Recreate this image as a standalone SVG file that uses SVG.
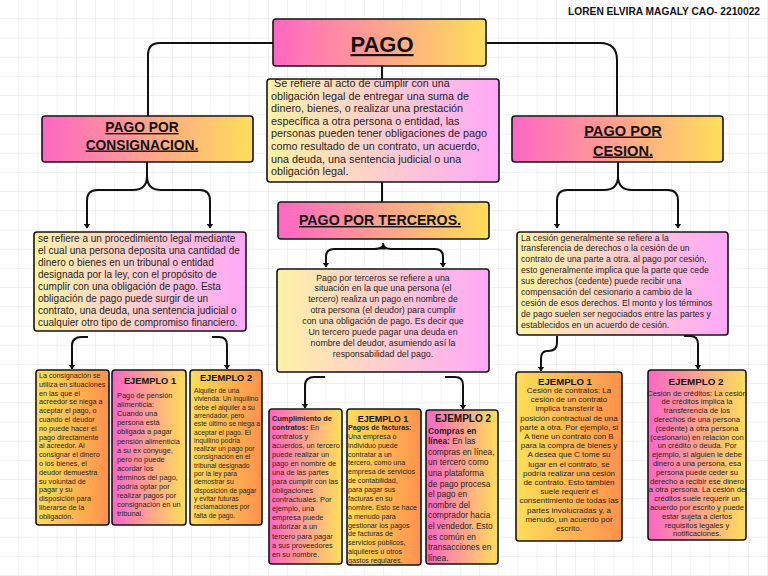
<svg xmlns="http://www.w3.org/2000/svg" width="768" height="576" viewBox="0 0 768 576">
<defs>
<pattern id="grid" width="19.2" height="19.2" patternUnits="userSpaceOnUse"><path d="M19.2 0V19.2H0" fill="none" stroke="#dcdcdc" stroke-width="0.8"/></pattern>
<linearGradient id="gPY" x1="0" y1="0" x2="1" y2="0"><stop offset="0" stop-color="#ff66c4"/><stop offset="1" stop-color="#ffde59"/></linearGradient>
<linearGradient id="gYO" x1="0" y1="0" x2="1" y2="0"><stop offset="0" stop-color="#ffde59"/><stop offset="1" stop-color="#ff914d"/></linearGradient>
<linearGradient id="gLP" x1="0" y1="0" x2="1" y2="0"><stop offset="0" stop-color="#fff1a6"/><stop offset="1" stop-color="#ffa8f8"/></linearGradient>
<marker id="ar" viewBox="0 0 10 10" refX="9" refY="5" markerWidth="5" markerHeight="7" markerUnits="userSpaceOnUse" orient="auto-start-reverse" preserveAspectRatio="none"><path d="M0 0L10 5L0 10z" fill="#111"/></marker>
</defs>
<style>
.box{stroke:#151515;stroke-width:1.6}
.t{font-family:"Liberation Sans",Arial,sans-serif;fill:#1f1f1f}
.h{font-family:"Liberation Sans",Arial,sans-serif;font-weight:700;fill:#111}
.u{text-decoration:underline}
.c{text-anchor:middle}
.b{font-weight:700}
.con{fill:none;stroke:#111;stroke-width:2}
.con.a{marker-end:url(#ar)}
</style>
<rect width="768" height="576" fill="#fff"/>
<rect width="768" height="576" fill="url(#grid)"/>
<text class="h" x="760" y="14.5" text-anchor="end" font-size="10.2">LOREN ELVIRA MAGALY CAO- 2210022</text>

<g id="connectors">
<path class="con" d="M273 43H160Q148 43 148 55V116"/>
<path class="con" d="M486 43H600Q617 43 617 60V116"/>
<path class="con" d="M382 66V79"/>
<path class="con" d="M382 182V202"/>
<path class="con a" d="M147 162V176C147 186 141 190 133 190H97C90 190 87 194 87 201V228"/>
<path class="con a" d="M147 176C147 186 153 190 161 190H200C207 190 210 194 210 201V228"/>
<path class="con a" d="M618 162V176C618 186 612 190 604 190H567C560 190 557 194 557 201V228"/>
<path class="con a" d="M618 176C618 186 624 190 632 190H668C675 190 678 194 678 201V228"/>
<path class="con a" d="M383 245C383 247 380 249 375 249H334C329 249 326 252 326 257V267" style="marker-start:url(#ar)"/>
<path class="con a" d="M383 243C383 247 386 249 391 249H435C440 249 443 252 443 257V267"/>
<path class="con a" d="M88 337H81C76 337 72 340 72 345V369"/>
<path class="con a" d="M212 337H219C224 337 227 340 227 345V369"/>
<path class="con a" d="M325 377H314C309 377 305 380 305 385V408"/>
<path class="con a" d="M445 377H455C460 377 463 380 463 385V409"/>
<path class="con a" d="M557 336V343C557 349 553 351 548 351H547C543 351 541 354 541 359V371"/>
<path class="con a" d="M684 336H690C695 336 698 339 698 344V369"/>
</g>

<g id="pago">
<rect class="box" x="273" y="19" width="213" height="47" rx="3" fill="url(#gPY)"/>
<text class="h u c" x="382" y="52" font-size="22">PAGO</text>
</g>

<g id="definicion">
<rect class="box" x="267" y="79" width="232" height="103" rx="3" fill="url(#gLP)"/>
<text class="t" font-size="10.8" y="87" xml:space="preserve"><tspan x="271"> Se refiere al acto de cumplir con una</tspan><tspan x="271" dy="12.6">obligación legal de entregar una suma de</tspan><tspan x="271" dy="12.6">dinero, bienes, o realizar una prestación</tspan><tspan x="271" dy="12.6">específica a otra persona o entidad, las</tspan><tspan x="271" dy="12.6">personas pueden tener obligaciones de pago</tspan><tspan x="271" dy="12.6">como resultado de un contrato, un acuerdo,</tspan><tspan x="271" dy="12.6">una deuda, una sentencia judicial o una</tspan><tspan x="271" dy="12.6">obligación legal.</tspan></text>
</g>

<g id="consignacion">
<rect class="box" x="42" y="116" width="211" height="46" rx="3" fill="url(#gPY)"/>
<text class="h u c" x="142" y="132" font-size="13.8">PAGO POR</text>
<text class="h u c" x="142" y="149.5" font-size="13.8">CONSIGNACION.</text>
</g>

<g id="consignacion-def">
<rect class="box" x="34" y="232" width="212" height="99" rx="3" fill="url(#gLP)"/>
<text class="t" font-size="10" y="241.5"><tspan x="38">se refiere a un procedimiento legal mediante</tspan><tspan x="38" dy="12">el cual una persona deposita una cantidad de</tspan><tspan x="38" dy="12">dinero o bienes en un tribunal o entidad</tspan><tspan x="38" dy="12">designada por la ley, con el propósito de</tspan><tspan x="38" dy="12">cumplir con una obligación de pago. Esta</tspan><tspan x="38" dy="12">obligación de pago puede surgir de un</tspan><tspan x="38" dy="12">contrato, una deuda, una sentencia judicial o</tspan><tspan x="38" dy="12">cualquier otro tipo de compromiso financiero.</tspan></text>
</g>

<g id="consignacion-uso">
<rect class="box" x="36" y="370" width="73" height="155" rx="3" fill="url(#gYO)"/>
<text class="t" font-size="7.2" y="378"><tspan x="39">La consignación se</tspan><tspan x="39" dy="8.8">utiliza en situaciones</tspan><tspan x="39" dy="8.8">en las que el</tspan><tspan x="39" dy="8.8">acreedor se niega a</tspan><tspan x="39" dy="8.8">aceptar el pago, o</tspan><tspan x="39" dy="8.8">cuando el deudor</tspan><tspan x="39" dy="8.8">no puede hacer el</tspan><tspan x="39" dy="8.8">pago directamente</tspan><tspan x="39" dy="8.8">al acreedor. Al</tspan><tspan x="39" dy="8.8">consignar el dinero</tspan><tspan x="39" dy="8.8">o los bienes, el</tspan><tspan x="39" dy="8.8">deudor demuestra</tspan><tspan x="39" dy="8.8">su voluntad de</tspan><tspan x="39" dy="8.8">pagar y su</tspan><tspan x="39" dy="8.8">disposición para</tspan><tspan x="39" dy="8.8">liberarse de la</tspan><tspan x="39" dy="8.8">obligación.</tspan></text>
</g>

<g id="consignacion-ej1">
<rect class="box" x="112" y="370" width="74" height="155" rx="3" fill="url(#gPY)"/>
<text class="h c" x="150" y="383.5" font-size="9.3">EJEMPLO 1</text>
<text class="t" font-size="7.4" y="398"><tspan x="117">Pago de pensión</tspan><tspan x="117" dy="9.1">alimenticia:</tspan><tspan x="117" dy="9.1">Cuando una</tspan><tspan x="117" dy="9.1">persona está</tspan><tspan x="117" dy="9.1">obligada a pagar</tspan><tspan x="117" dy="9.1">pensión alimenticia</tspan><tspan x="117" dy="9.1">a su ex cónyuge,</tspan><tspan x="117" dy="9.1">pero no puede</tspan><tspan x="117" dy="9.1">acordar los</tspan><tspan x="117" dy="9.1">términos del pago,</tspan><tspan x="117" dy="9.1">podría optar por</tspan><tspan x="117" dy="9.1">realizar pagos por</tspan><tspan x="117" dy="9.1">consignación en un</tspan><tspan x="117" dy="9.1">tribunal.</tspan></text>
</g>

<g id="consignacion-ej2">
<rect class="box" x="190" y="370" width="72" height="155" rx="3" fill="url(#gYO)"/>
<text class="h c" x="226" y="381" font-size="9.3">EJEMPLO 2</text>
<text class="t" font-size="6.8" y="393"><tspan x="194">Alquiler de una</tspan><tspan x="194" dy="8.3">vivienda: Un inquilino</tspan><tspan x="194" dy="8.3">debe el alquiler a su</tspan><tspan x="194" dy="8.3">arrendador, pero</tspan><tspan x="194" dy="8.3">este último se niega a</tspan><tspan x="194" dy="8.3">aceptar el pago. El</tspan><tspan x="194" dy="8.3">inquilino podría</tspan><tspan x="194" dy="8.3">realizar un pago por</tspan><tspan x="194" dy="8.3">consignación en el</tspan><tspan x="194" dy="8.3">tribunal designado</tspan><tspan x="194" dy="8.3">por la ley para</tspan><tspan x="194" dy="8.3">demostrar su</tspan><tspan x="194" dy="8.3">disposición de pagar</tspan><tspan x="194" dy="8.3">y evitar futuras</tspan><tspan x="194" dy="8.3">reclamaciones por</tspan><tspan x="194" dy="8.3">falta de pago.</tspan></text>
</g>

<g id="terceros">
<rect class="box" x="278" y="202" width="211" height="37" rx="3" fill="url(#gPY)"/>
<text class="h u c" x="380" y="225" font-size="14.2">PAGO POR TERCEROS.</text>
</g>

<g id="terceros-def">
<rect class="box" x="277" y="269" width="212" height="103" rx="3" fill="url(#gLP)"/>
<text class="t c" font-size="8.8" y="280.5"><tspan x="383">Pago por terceros se refiere a una</tspan><tspan x="383" dy="10.9">situación en la que una persona (el</tspan><tspan x="383" dy="10.9">tercero) realiza un pago en nombre de</tspan><tspan x="383" dy="10.9">otra persona (el deudor) para cumplir</tspan><tspan x="383" dy="10.9">con una obligación de pago. Es decir que</tspan><tspan x="383" dy="10.9">Un tercero puede pagar una deuda en</tspan><tspan x="383" dy="10.9">nombre del deudor, asumiendo así la</tspan><tspan x="383" dy="10.9">responsabilidad del pago.</tspan></text>
</g>

<g id="terceros-contratos">
<rect class="box" x="269" y="409" width="73" height="155" rx="3" fill="url(#gPY)"/>
<text class="t" font-size="7.4" y="421"><tspan x="272" class="b">Cumplimiento de</tspan><tspan x="272" dy="9.04"><tspan class="b">contratos:</tspan> En</tspan><tspan x="272" dy="9.04">contratos y</tspan><tspan x="272" dy="9.04">acuerdos, un tercero</tspan><tspan x="272" dy="9.04">puede realizar un</tspan><tspan x="272" dy="9.04">pago en nombre de</tspan><tspan x="272" dy="9.04">una de las partes</tspan><tspan x="272" dy="9.04">para cumplir con las</tspan><tspan x="272" dy="9.04">obligaciones</tspan><tspan x="272" dy="9.04">contractuales. Por</tspan><tspan x="272" dy="9.04">ejemplo, una</tspan><tspan x="272" dy="9.04">empresa puede</tspan><tspan x="272" dy="9.04">autorizar a un</tspan><tspan x="272" dy="9.04">tercero para pagar</tspan><tspan x="272" dy="9.04">a sus proveedores</tspan><tspan x="272" dy="9.04">en su nombre.</tspan></text>
</g>

<g id="terceros-ej1">
<rect class="box" x="347" y="409" width="74" height="156" rx="3" fill="url(#gYO)"/>
<text class="h c" x="383" y="421.5" font-size="9">EJEMPLO 1</text>
<text class="t" font-size="7.1" y="430"><tspan x="348" class="b">Pagos de facturas:</tspan><tspan x="348" dy="8.87">Una empresa o</tspan><tspan x="348" dy="8.87">individuo puede</tspan><tspan x="348" dy="8.87">contratar a un</tspan><tspan x="348" dy="8.87">tercero, como una</tspan><tspan x="348" dy="8.87">empresa de servicios</tspan><tspan x="348" dy="8.87">de contabilidad,</tspan><tspan x="348" dy="8.87">para pagar sus</tspan><tspan x="348" dy="8.87">facturas en su</tspan><tspan x="348" dy="8.87">nombre. Esto se hace</tspan><tspan x="348" dy="8.87">a menudo para</tspan><tspan x="348" dy="8.87">gestionar los pagos</tspan><tspan x="348" dy="8.87">de facturas de</tspan><tspan x="348" dy="8.87">servicios públicos,</tspan><tspan x="348" dy="8.87">alquileres u otros</tspan><tspan x="348" dy="8.87">gastos regulares.</tspan></text>
</g>

<g id="terceros-ej2">
<rect class="box" x="426" y="410" width="72" height="154" rx="3" fill="url(#gPY)"/>
<text class="h c" x="463" y="421.5" font-size="10">EJEMPLO 2</text>
<text class="t" font-size="8.4" y="433.5"><tspan x="428" class="b">Compras en</tspan><tspan x="428" dy="10.6"><tspan class="b">línea:</tspan> En las</tspan><tspan x="428" dy="10.6">compras en línea,</tspan><tspan x="428" dy="10.6">un tercero como</tspan><tspan x="428" dy="10.6">una plataforma</tspan><tspan x="428" dy="10.6">de pago procesa</tspan><tspan x="428" dy="10.6">el pago en</tspan><tspan x="428" dy="10.6">nombre del</tspan><tspan x="428" dy="10.6">comprador hacia</tspan><tspan x="428" dy="10.6">el vendedor. Esto</tspan><tspan x="428" dy="10.6">es común en</tspan><tspan x="428" dy="10.6">transacciones en</tspan><tspan x="428" dy="10.6">línea.</tspan></text>
</g>

<g id="cesion">
<rect class="box" x="512" y="116" width="211" height="46" rx="3" fill="url(#gPY)"/>
<text class="h u c" x="623" y="135.5" font-size="14.6">PAGO POR</text>
<text class="h u c" x="623" y="155.5" font-size="14.6">CESION.</text>
</g>

<g id="cesion-def">
<rect class="box" x="517" y="232" width="211" height="103" rx="3" fill="url(#gLP)"/>
<text class="t" font-size="8.7" y="240.5"><tspan x="521">La cesión generalmente se refiere a la</tspan><tspan x="521" dy="10.96">transferencia de derechos o la cesión de un</tspan><tspan x="521" dy="10.96">contrato de una parte a otra. al pago por cesión,</tspan><tspan x="521" dy="10.96">esto generalmente implica que la parte que cede</tspan><tspan x="521" dy="10.96">sus derechos (cedente) puede recibir una</tspan><tspan x="521" dy="10.96">compensación del cesionario a cambio de la</tspan><tspan x="521" dy="10.96">cesión de esos derechos. El monto y los términos</tspan><tspan x="521" dy="10.96">de pago suelen ser negociados entre las partes y</tspan><tspan x="521" dy="10.96">establecidos en un acuerdo de cesión.</tspan></text>
</g>

<g id="cesion-ej1">
<rect class="box" x="516" y="372" width="106" height="169" rx="3" fill="url(#gYO)"/>
<text class="h c" x="565" y="385" font-size="9.6">EJEMPLO 1</text>
<text class="t c" font-size="8" y="393"><tspan x="569">Cesión de contratos: La</tspan><tspan x="569" dy="9.2">cesión de un contrato</tspan><tspan x="569" dy="9.2">implica transferir la</tspan><tspan x="569" dy="9.2">posición contractual de una</tspan><tspan x="569" dy="9.2">parte a otra. Por ejemplo, si</tspan><tspan x="569" dy="9.2">A tiene un contrato con B</tspan><tspan x="569" dy="9.2">para la compra de bienes y</tspan><tspan x="569" dy="9.2">A desea que C tome su</tspan><tspan x="569" dy="9.2">lugar en el contrato, se</tspan><tspan x="569" dy="9.2">podría realizar una cesión</tspan><tspan x="569" dy="9.2">de contrato. Esto también</tspan><tspan x="569" dy="9.2">suele requerir el</tspan><tspan x="569" dy="9.2">consentimiento de todas las</tspan><tspan x="569" dy="9.2">partes involucradas y, a</tspan><tspan x="569" dy="9.2">menudo, un acuerdo por</tspan><tspan x="569" dy="9.2">escrito.</tspan></text>
</g>

<g id="cesion-ej2">
<rect class="box" x="648" y="370" width="98" height="170" rx="3" fill="url(#gPY)"/>
<text class="h c" x="696" y="384.5" font-size="9.8">EJEMPLO 2</text>
<text class="t c" font-size="7.6" y="395.5"><tspan x="697">Cesión de créditos: La cesión</tspan><tspan x="697" dy="8.8">de créditos implica la</tspan><tspan x="697" dy="8.8">transferencia de los</tspan><tspan x="697" dy="8.8">derechos de una persona</tspan><tspan x="697" dy="8.8">(cedente) a otra persona</tspan><tspan x="697" dy="8.8">(cesionario) en relación con</tspan><tspan x="697" dy="8.8">un crédito o deuda. Por</tspan><tspan x="697" dy="8.8">ejemplo, si alguien le debe</tspan><tspan x="697" dy="8.8">dinero a una persona, esa</tspan><tspan x="697" dy="8.8">persona puede ceder su</tspan><tspan x="697" dy="8.8">derecho a recibir ese dinero</tspan><tspan x="697" dy="8.8">a otra persona. La cesión de</tspan><tspan x="697" dy="8.8">créditos suele requerir un</tspan><tspan x="697" dy="8.8">acuerdo por escrito y puede</tspan><tspan x="697" dy="8.8">estar sujeta a ciertos</tspan><tspan x="697" dy="8.8">requisitos legales y</tspan><tspan x="697" dy="8.8">notificaciones.</tspan></text>
</g>
</svg>
